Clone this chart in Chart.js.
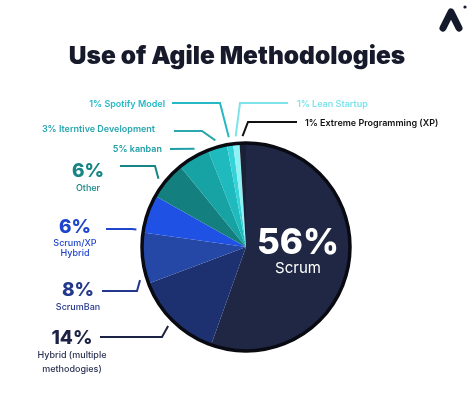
<!DOCTYPE html>
<html>
<head>
<meta charset="utf-8">
<script src="https://cdn.jsdelivr.net/npm/chart.js@4.4.1/dist/chart.umd.min.js"></script>
<style>
    body { margin: 0; background: #fff; }
    .wrap { position: relative; width: 474px; height: 394px; overflow: hidden; font-family: Inter, "Noto Sans", sans-serif; }
    canvas { position: absolute; left: 0; top: 0; }
    .t { position: absolute; white-space: nowrap; }
    .title { left: 0; width: 474px; top: 40px; text-align: center; font-size: 24.5px; font-weight: 900; color: #161a2b; }
</style>
</head>
<body>
<div class="wrap" id="wrap">
    <canvas id="pie" width="474" height="394"></canvas>
    <div class="t title">Use of Agile Methodologies</div>
</div>
<script>
// data, clockwise from 12 o'clock
const categories = ["Scrum", "Hybrid (multiple\nmethodogies)", "ScrumBan", "Scrum/XP\nHybrid", "Other",
    "kanban", "Iterntive Development", "Spotify Model", "Lean Startup", "Extreme Programming (XP)"];
const shares = [56, 14, 8, 6, 6, 5, 3, 1, 1, 1];
const sliceColors = ["#1f2744", "#1d3170", "#2547a6", "#1f52e4", "#13807f",
    "#17a2a4", "#1fbabd", "#35d3d7", "#8ef2f4", "#1a2036"];
const labelColors = ["#ffffff", "#1b2244", "#23378c", "#1f45cc", "#168584",
    "#1e9ea6", "#29a6ae", "#25b9c6", "#7fe3ec", "#111111"];

// where each label sits (small ones are "n% name" on one line, big ones stacked)
let small = {
    5: {x: 162, y: 148, align: "right"},
    6: {x: 155, y: 128, align: "right"},
    7: {x: 165, y: 103, align: "right"},
    8: {x: 297, y: 103, align: "left"},
    9: {x: 305, y: 122, align: "left"}
};
let big = {
    1: {x: 72, y: 337, nameY: 354},
    2: {x: 78, y: 289, nameY: 306},
    3: {x: 75, y: 226, nameY: 242},
    4: {x: 88, y: 170, nameY: 187}
};
// leader lines: start x, y, elbow x, and where along the slice the end points (0..1)
let leaders = {
    1: [100, 337, 162, 0.5], 2: [102, 291, 137, 0.11], 3: [106, 229, 132, 0.05], 4: [120, 166, 155, 0.4],
    5: [170, 149, 170, 0.65], 6: [174, 131, 202, 0.5], 7: [172, 103, 220, 0.5], 8: [288, 103, 240, 0.5], 9: [297, 122, 248, 0.5]
};

let wrap = document.getElementById("wrap");

function addText(text, x, y, size, weight, color, align, lh) {
    let d = document.createElement("div");
    d.className = "t";
    lh = lh || size + 2;
    d.style.fontSize = size + "px";
    d.style.fontWeight = weight;
    d.style.color = color;
    d.style.lineHeight = lh + "px";
    d.style.top = (y - lh / 2) + "px";
    if (align == "right") {
        d.style.right = (474 - x) + "px";
    } else if (align == "left") {
        d.style.left = x + "px";
    } else {
        d.style.left = x + "px";
        d.style.transform = "translateX(-50%)";
        d.style.textAlign = "center";
    }
    d.innerHTML = text.replace(/\n/g, "<br>");
    wrap.appendChild(d);
    return d;
}

for (let i in small) {
    let s = small[i];
    addText(shares[i] + "% " + categories[i], s.x, s.y, 9, 600, labelColors[i], s.align);
}
for (let i in big) {
    let b = big[i];
    addText(shares[i] + "%", b.x, b.y, 19, 800, labelColors[i], "center", 19);
    let lines = categories[i].split("\n");
    let gap = i == 1 ? 14 : 10;
    for (let k = 0; k < lines.length; k++) {
        addText(lines[k], b.x, b.nameY + k * gap, 9, 500, i == 1 ? "#2b3152" : labelColors[i], "center");
    }
}
// the Scrum label sits inside its slice
addText(shares[0] + "%", 298, 241, 35, 800, labelColors[0], "center", 36);
addText(categories[0], 298, 267, 15, 400, labelColors[0], "center");

const extras = {
    id: "extras",
    afterDatasetsDraw(chart) {
        let ctx = chart.ctx;
        let arcs = chart.getDatasetMeta(0).data;
        let c = arcs[0];

        // black rim
        ctx.save();
        ctx.beginPath();
        ctx.arc(c.x, c.y, c.outerRadius, 0, Math.PI * 2);
        ctx.lineWidth = 3.5;
        ctx.strokeStyle = "#0a0b12";
        ctx.stroke();

        // leader lines
        ctx.lineWidth = 2;
        ctx.lineJoin = "miter";
        for (let i in leaders) {
            let a = arcs[i];
            let l = leaders[i];
            let ang = a.startAngle + (a.endAngle - a.startAngle) * l[3];
            let r = a.outerRadius + 7;
            ctx.beginPath();
            ctx.moveTo(l[0], l[1]);
            ctx.lineTo(l[2], l[1]);
            ctx.lineTo(a.x + Math.cos(ang) * r, a.y + Math.sin(ang) * r);
            ctx.strokeStyle = i == 1 ? "#1b2244" : labelColors[i];
            ctx.stroke();
        }

        // logo, top right
        ctx.beginPath();
        ctx.moveTo(443, 28);
        ctx.lineTo(451, 12);
        ctx.lineTo(459, 28);
        ctx.lineWidth = 7;
        ctx.lineCap = "round";
        ctx.lineJoin = "round";
        ctx.strokeStyle = "#141a2c";
        ctx.stroke();
        ctx.beginPath();
        ctx.arc(465, 7, 1.6, 0, Math.PI * 2);
        ctx.fillStyle = "#141a2c";
        ctx.fill();
        ctx.restore();
    }
};

new Chart(document.getElementById("pie"), {
    type: "pie",
    data: {
        labels: categories.map(c => c.replace("\n", " ")),
        datasets: [{
            data: shares,
            backgroundColor: sliceColors,
            borderWidth: 0
        }]
    },
    options: {
        responsive: false,
        animation: false,
        layout: { padding: { top: 143, bottom: 43, left: 142, right: 124 } },
        plugins: {
            legend: { display: false },
            tooltip: { enabled: false }
        }
    },
    plugins: [extras]
});
</script>
</body>
</html>
